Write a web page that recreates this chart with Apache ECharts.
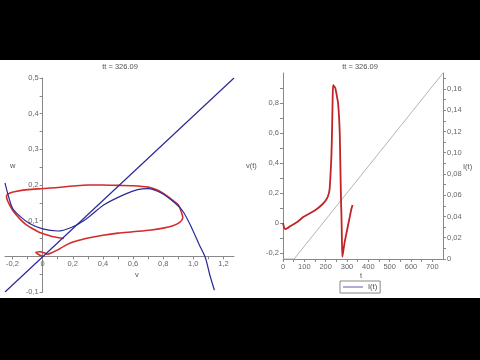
<!DOCTYPE html>
<html><head><meta charset="utf-8">
<script src="https://cdn.jsdelivr.net/npm/echarts@6/dist/echarts.min.js"></script>
<style>
html,body{margin:0;padding:0;background:#000;width:480px;height:360px;overflow:hidden;}
#band{position:absolute;left:0;top:60px;width:480px;height:238px;background:#fff;}
#chart{position:absolute;left:0;top:0;width:480px;height:360px;}
</style>
</head><body><div id="band"></div><div id="chart"></div>
<script>
// ---- data ----
const titleText = 'tt = 326.09';
const linearNullcline = [[-0.25, -0.1], [1.27, 0.5]];
const cubicNullcline = [[-0.25,0.206],[-0.23,0.173],[-0.2,0.135],[-0.15,0.112],[-0.09,0.093],[0,0.077],[0.1,0.071],[0.19,0.081],[0.28,0.102],[0.41,0.145],[0.54,0.173],[0.63,0.187],[0.7,0.19],[0.79,0.177],[0.88,0.149],[0.93,0.127],[0.99,0.079],[1.04,0.032],[1.08,-0.004],[1.11,-0.053],[1.14,-0.095]];
const phaseTrajectory = [[0,0],[-0.03,0.006],[-0.045,0.011],[-0.02,0.013],[0.01,0.01],[0.03,0.006],[0.06,0.01],[0.1,0.018],[0.14,0.028],[0.18,0.037],[0.25,0.046],[0.31,0.052],[0.4,0.059],[0.5,0.065],[0.6,0.069],[0.72,0.074],[0.8,0.079],[0.86,0.085],[0.91,0.095],[0.93,0.108],[0.92,0.125],[0.9,0.145],[0.86,0.158],[0.82,0.171],[0.76,0.186],[0.7,0.194],[0.6,0.198],[0.5,0.199],[0.4,0.2],[0.3,0.2],[0.2,0.197],[0.1,0.193],[0,0.19],[-0.1,0.187],[-0.18,0.182],[-0.22,0.177],[-0.24,0.17],[-0.235,0.158],[-0.22,0.145],[-0.2,0.13],[-0.175,0.116],[-0.14,0.1],[-0.108,0.088],[-0.06,0.076],[-0.02,0.067],[0.03,0.06],[0.07,0.055],[0.14,0.05]];
const timeV = [[0,0],[5,-0.03],[10,-0.04],[20,-0.035],[35,-0.02],[50,-0.008],[70,0.01],[95,0.04],[120,0.06],[145,0.08],[165,0.1],[185,0.125],[200,0.15],[210,0.175],[218,0.22],[223,0.33],[227,0.45],[230,0.62],[233,0.85],[235,0.92],[238,0.92],[245,0.9],[252,0.85],[258,0.8],[263,0.7],[266,0.6],[268,0.45],[270,0.3],[272,0.15],[274,0.05],[276,-0.1],[278,-0.225],[281,-0.2],[290,-0.12],[300,-0.05],[310,0.02],[320,0.09],[326,0.12]];
const currentI = [[0,0],[52,0],[750,0.175]];
const phaseXTicks = [-0.2,0,0.2,0.4,0.6,0.8,1.0,1.2];
const phaseYTicks = [-0.1,0.1,0.2,0.3,0.4,0.5];
const timeXTicks = [0,100,200,300,400,500,600,700];
const timeVTicks = [-0.2,0,0.2,0.4,0.6,0.8];
const timeITicks = [0,0.02,0.04,0.06,0.08,0.10,0.12,0.14,0.16];
const phaseXMinor = [-0.2,-0.1,0,0.1,0.2,0.3,0.4,0.5,0.6,0.7,0.8,0.9,1.0,1.1,1.2];
const phaseYMinor = [-0.1,-0.05,0.05,0.1,0.15,0.2,0.25,0.3,0.35,0.4,0.45,0.5];
const timeXMinor = [0,50,100,150,200,250,300,350,400,450,500,550,600,650,700];
const timeVMinor = [-0.2,-0.1,0,0.1,0.2,0.3,0.4,0.5,0.6,0.7,0.8,0.9];
const timeIMinor = [0,0.01,0.02,0.03,0.04,0.05,0.06,0.07,0.08,0.09,0.1,0.11,0.12,0.13,0.14,0.15,0.16,0.17];

// ---- layout / styling ----
const FONT = 'Liberation Sans';
const TXT = '#666';
const AX = '#888';
const RED = '#d42a2a';
const BLUE = '#2a2a96';
const g0 = {left:5, top:78, width:229, height:214};
const g1 = {left:283, top:73, width:160, height:186};
const pX = {min:-0.25, max:1.27}, pY = {min:-0.1, max:0.5};
// place the phase-plane axes through the origin (via offsets)
const yAxisShift = -(0 - pX.min) / (pX.max - pX.min) * g0.width;
const xAxisShift = -(0 - pY.min) / (pY.max - pY.min) * g0.height;

function fmt(d){ return function(v){ if (Math.abs(v) < 1e-9) return '0'; return v.toFixed(d).replace('.', ','); }; }
function axisCommon(labels, minor, f){
  return {
    axisLine:{show:true, onZero:false, lineStyle:{color:AX, width:1}},
    axisTick:{show:true, length:3, customValues:minor, lineStyle:{color:AX}},
    axisLabel:{customValues:labels, formatter:f, color:TXT, fontFamily:FONT, fontSize:7.5, margin:4},
    splitLine:{show:false}
  };
}
const chart = echarts.init(document.getElementById('chart'), null, {renderer:'canvas'});
const option = {
  backgroundColor:'transparent',
  animation:false,
  title:[
    {text:titleText, left:120, top:63, padding:0, textAlign:'center', textStyle:{fontFamily:FONT, fontSize:7.5, fontWeight:'normal', color:'#555'}},
    {text:titleText, left:360, top:63, padding:0, textAlign:'center', textStyle:{fontFamily:FONT, fontSize:7.5, fontWeight:'normal', color:'#555'}}
  ],
  grid:[
    Object.assign({outerBoundsMode:'none', containLabel:false}, g0),
    Object.assign({outerBoundsMode:'none', containLabel:false}, g1)
  ],
  xAxis:[
    Object.assign({type:'value', gridIndex:0, min:pX.min, max:pX.max, position:'bottom', offset:xAxisShift}, axisCommon(phaseXTicks, phaseXMinor, fmt(1))),
    Object.assign({type:'value', gridIndex:1, min:0, max:750, position:'bottom'}, axisCommon(timeXTicks, timeXMinor, fmt(0)))
  ],
  yAxis:[
    Object.assign({type:'value', gridIndex:0, min:pY.min, max:pY.max, position:'left', offset:yAxisShift}, axisCommon(phaseYTicks, phaseYMinor, fmt(1))),
    Object.assign({type:'value', gridIndex:1, min:-0.24, max:1.0, position:'left'}, axisCommon(timeVTicks, timeVMinor, fmt(1))),
    Object.assign({type:'value', gridIndex:1, min:0, max:0.175, position:'right'}, axisCommon(timeITicks, timeIMinor, fmt(2)))
  ],
  legend:{
    left:340, top:281, orient:'horizontal',
    data:[{name:'I(t)', icon:'rect', itemStyle:{color:'#5a5ab0'}}],
    itemWidth:20, itemHeight:1, itemGap:4,
    padding:[2,3,2,3], borderColor:'#888', borderWidth:1,
    textStyle:{fontFamily:FONT, fontSize:7.5, color:'#444'}
  },
  graphic:[
    {type:'text', left:10, top:162, style:{text:'w', fill:'#555', font:'7.5px "Liberation Sans"'}},
    {type:'text', left:135, top:271, style:{text:'v', fill:'#555', font:'7.5px "Liberation Sans"'}},
    {type:'text', left:246, top:162, style:{text:'v(t)', fill:'#555', font:'7.5px "Liberation Sans"'}},
    {type:'text', left:360, top:272, style:{text:'t', fill:'#555', font:'7.5px "Liberation Sans"'}},
    {type:'text', left:463, top:163, style:{text:'I(t)', fill:'#555', font:'7.5px "Liberation Sans"'}}
  ],
  series:[
    {type:'line', name:'trajectory', xAxisIndex:0, yAxisIndex:0, data:phaseTrajectory, symbol:'none', smooth:0.3, lineStyle:{color:RED, width:1.6}},
    {type:'line', name:'cubic', xAxisIndex:0, yAxisIndex:0, data:cubicNullcline, symbol:'none', smooth:0.3, lineStyle:{color:BLUE, width:1.2}},
    {type:'line', name:'linear', xAxisIndex:0, yAxisIndex:0, data:linearNullcline, symbol:'none', lineStyle:{color:BLUE, width:1.2}},
    {type:'line', name:'I(t)', xAxisIndex:1, yAxisIndex:2, data:currentI, symbol:'none', lineStyle:{color:'#b4b4b4', width:1}, itemStyle:{color:'#b4b4b4'}},
    {type:'line', name:'v(t)', xAxisIndex:1, yAxisIndex:1, data:timeV, symbol:'none', smooth:0.2, lineStyle:{color:'#c02424', width:1.8}}
  ]
};
chart.setOption(option);
</script>
</body></html>
